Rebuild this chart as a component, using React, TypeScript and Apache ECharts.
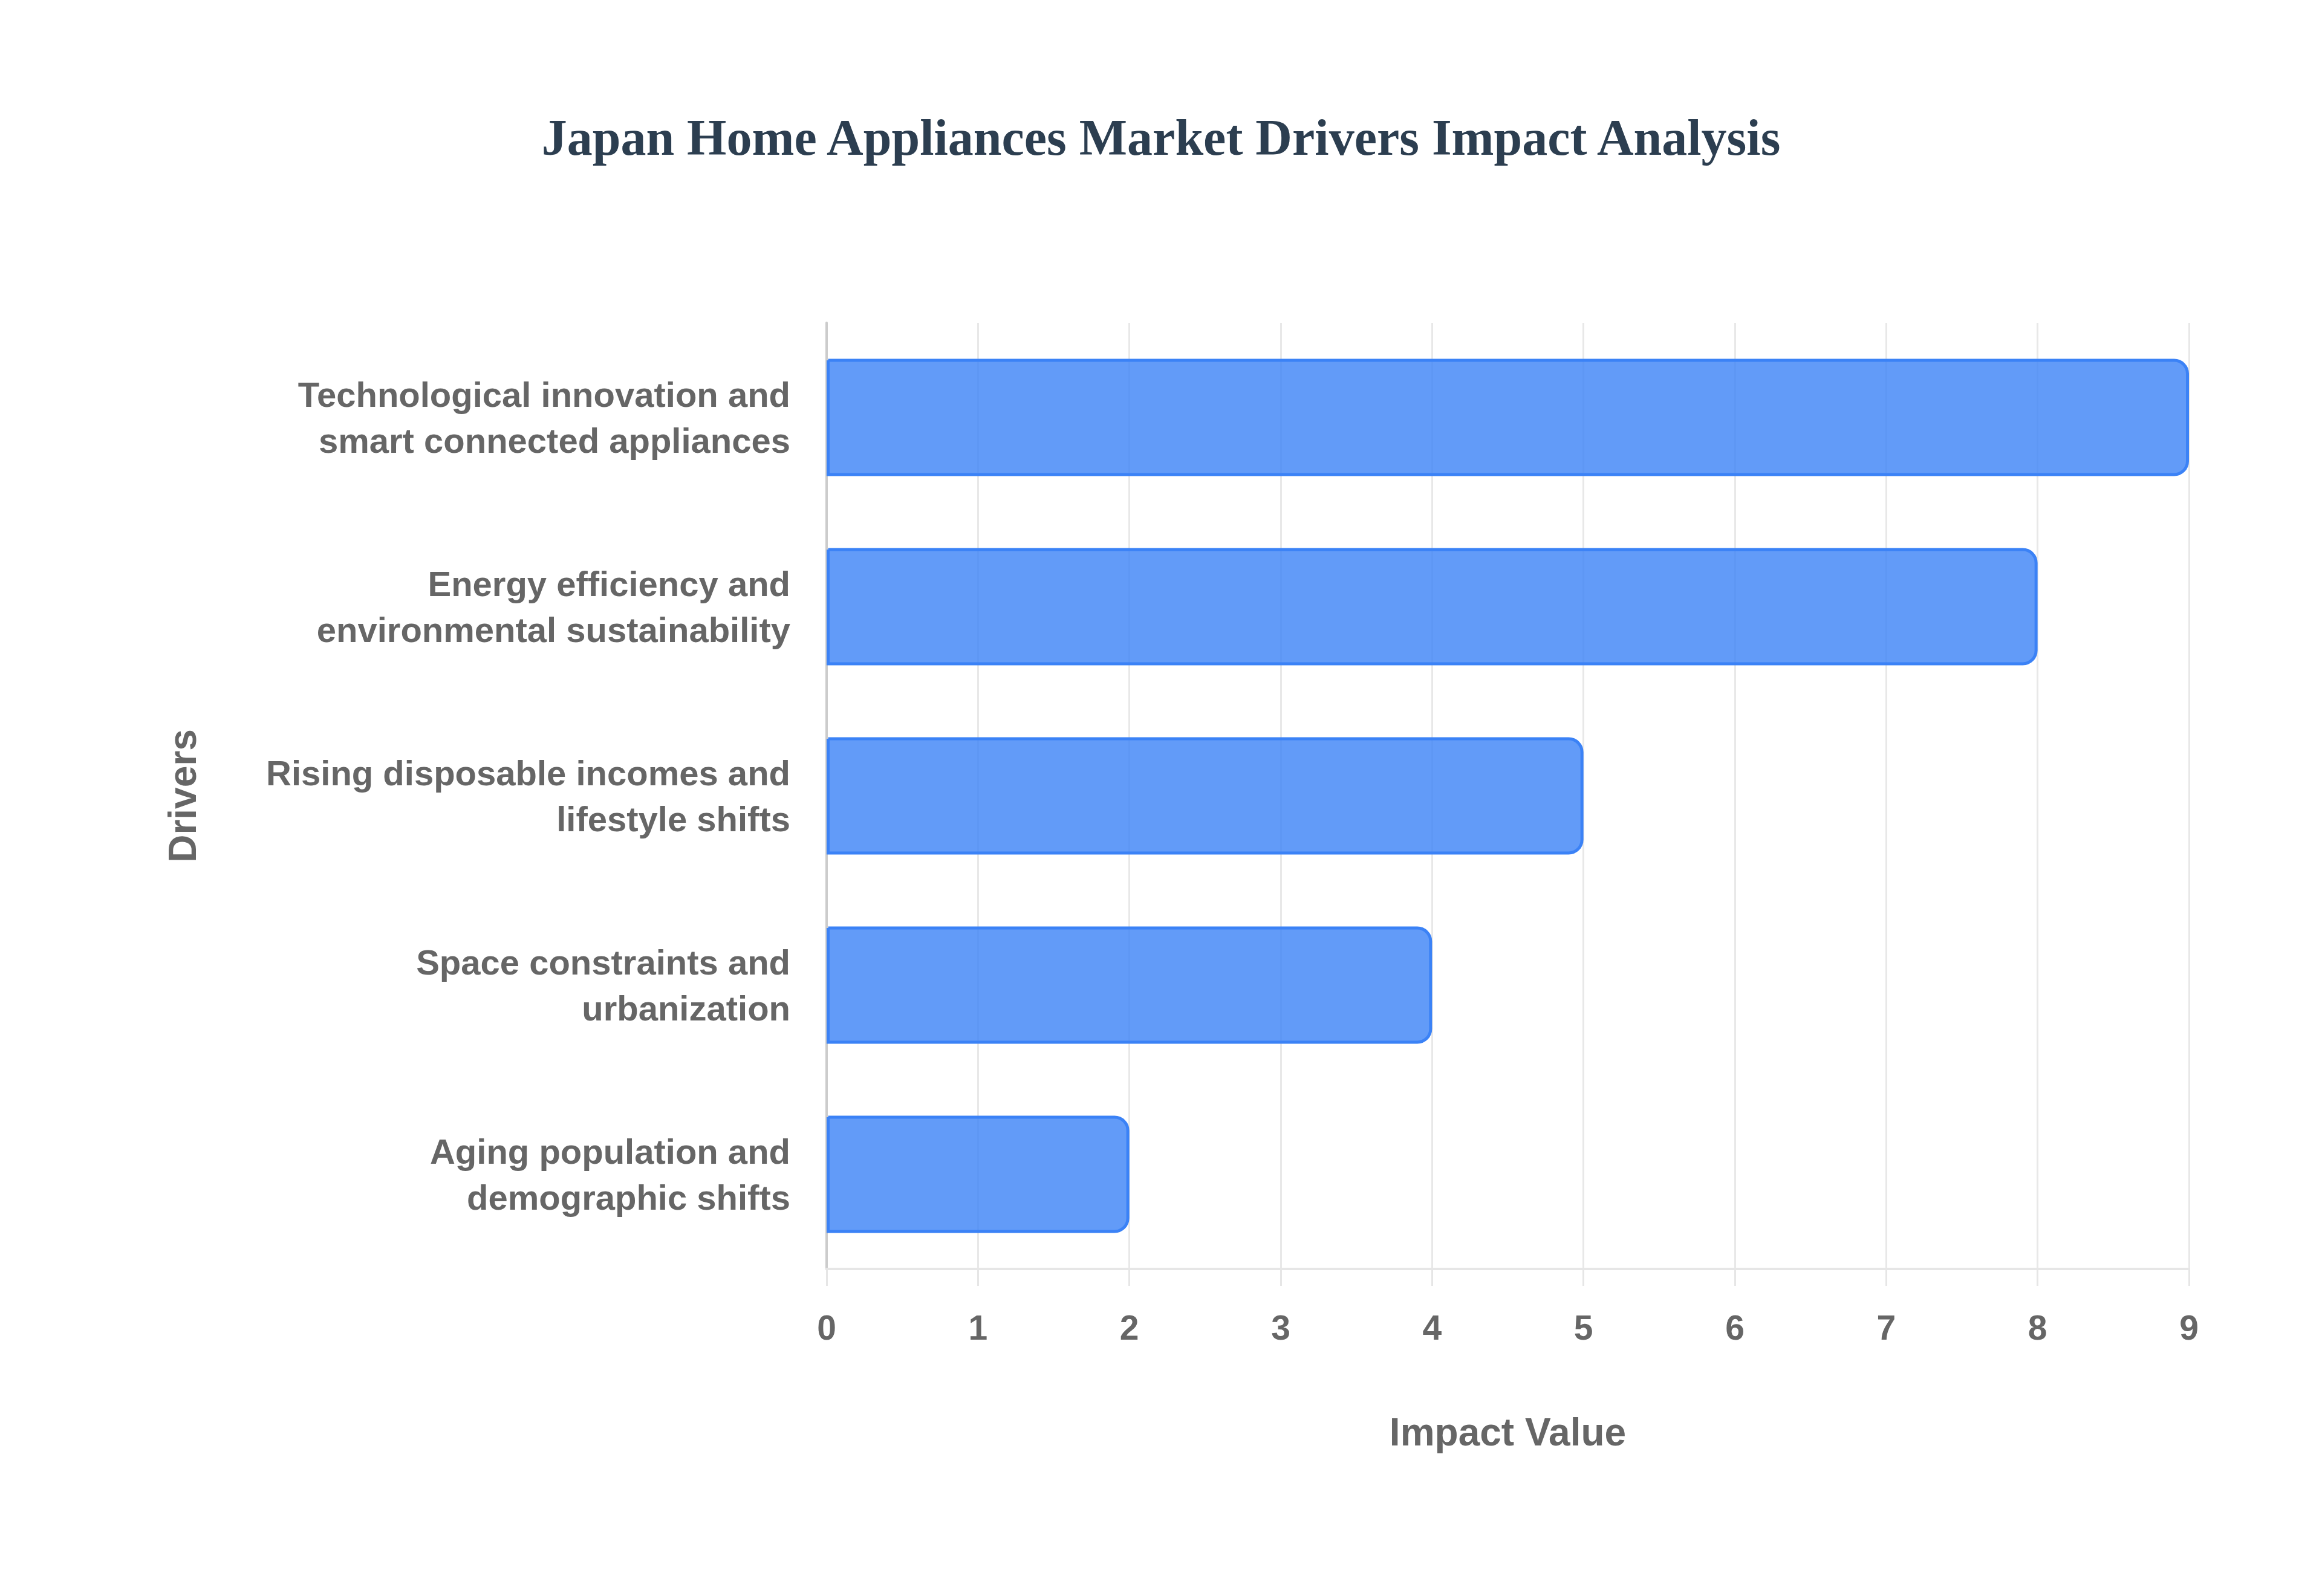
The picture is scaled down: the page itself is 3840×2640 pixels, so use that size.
import React, { useEffect, useRef } from "react";
import * as echarts from "echarts";

// Drivers listed top to bottom, as shown in the chart
const drivers = [
  "Technological innovation and\nsmart connected appliances",
  "Energy efficiency and\nenvironmental sustainability",
  "Rising disposable incomes and\nlifestyle shifts",
  "Space constraints and\nurbanization",
  "Aging population and\ndemographic shifts",
];
const impactValues = [9, 8, 5, 4, 2];
const impactTicks = [0, 1, 2, 3, 4, 5, 6, 7, 8, 9];

const App = () => {
  const chartRef = useRef<HTMLDivElement>(null);

  useEffect(() => {
    document.body.style.margin = "0";
    if (!chartRef.current) return;
    const chart = echarts.init(chartRef.current, undefined, { renderer: "svg" });

    const options = {
      animation: false,
      backgroundColor: "#ffffff",
      title: {
        text: "Japan Home Appliances Market Drivers Impact Analysis",
        left: "center",
        top: 180,
        textStyle: {
          fontFamily: "Liberation Serif",
          fontWeight: "bold",
          fontSize: 84,
          color: "#2c3e50",
        },
      },
      grid: {
        left: 1367,
        right: 220,
        top: 534,
        bottom: 541,
        containLabel: false,
      },
      xAxis: {
        type: "value",
        min: impactTicks[0],
        max: impactTicks[impactTicks.length - 1],
        interval: 1,
        name: "Impact Value",
        nameLocation: "middle",
        nameGap: 238,
        nameTextStyle: {
          fontFamily: "Liberation Sans",
          fontWeight: "bold",
          fontSize: 64,
          color: "#666666",
        },
        axisLine: { show: true, lineStyle: { color: "#e6e6e6", width: 4 } },
        axisTick: { show: true, length: 28, lineStyle: { color: "#e6e6e6", width: 3 } },
        splitLine: { show: true, lineStyle: { color: "#e8e8e8", width: 3 } },
        axisLabel: {
          margin: 68,
          fontFamily: "Liberation Sans",
          fontWeight: "bold",
          fontSize: 57,
          color: "#666666",
        },
      },
      yAxis: {
        type: "category",
        data: drivers,
        inverse: true,
        name: "Drivers",
        nameLocation: "middle",
        nameGap: 1033,
        nameRotate: 90,
        nameTextStyle: {
          fontFamily: "Liberation Sans",
          fontWeight: "bold",
          fontSize: 64,
          color: "#666666",
        },
        axisLine: { show: true, lineStyle: { color: "#cccccc", width: 4 } },
        axisTick: { show: false },
        splitLine: { show: false },
        axisLabel: {
          margin: 60,
          fontFamily: "Liberation Sans",
          fontWeight: "bold",
          fontSize: 58,
          lineHeight: 76,
          color: "#666666",
          align: "right",
          padding: [0, 0, 10, 0],
        },
      },
      series: [
        {
          type: "bar",
          data: impactValues,
          barCategoryGap: "38%",
          itemStyle: {
            color: "rgba(59,130,246,0.8)",
            borderColor: "#3b82f6",
            borderWidth: 5,
            borderRadius: [0, 22, 22, 0],
          },
        },
      ],
    };

    chart.setOption(options);
    return () => {
      chart.dispose();
    };
  }, []);

  return <div ref={chartRef} style={{ width: "3840px", height: "2640px" }} />;
};

export default App;
